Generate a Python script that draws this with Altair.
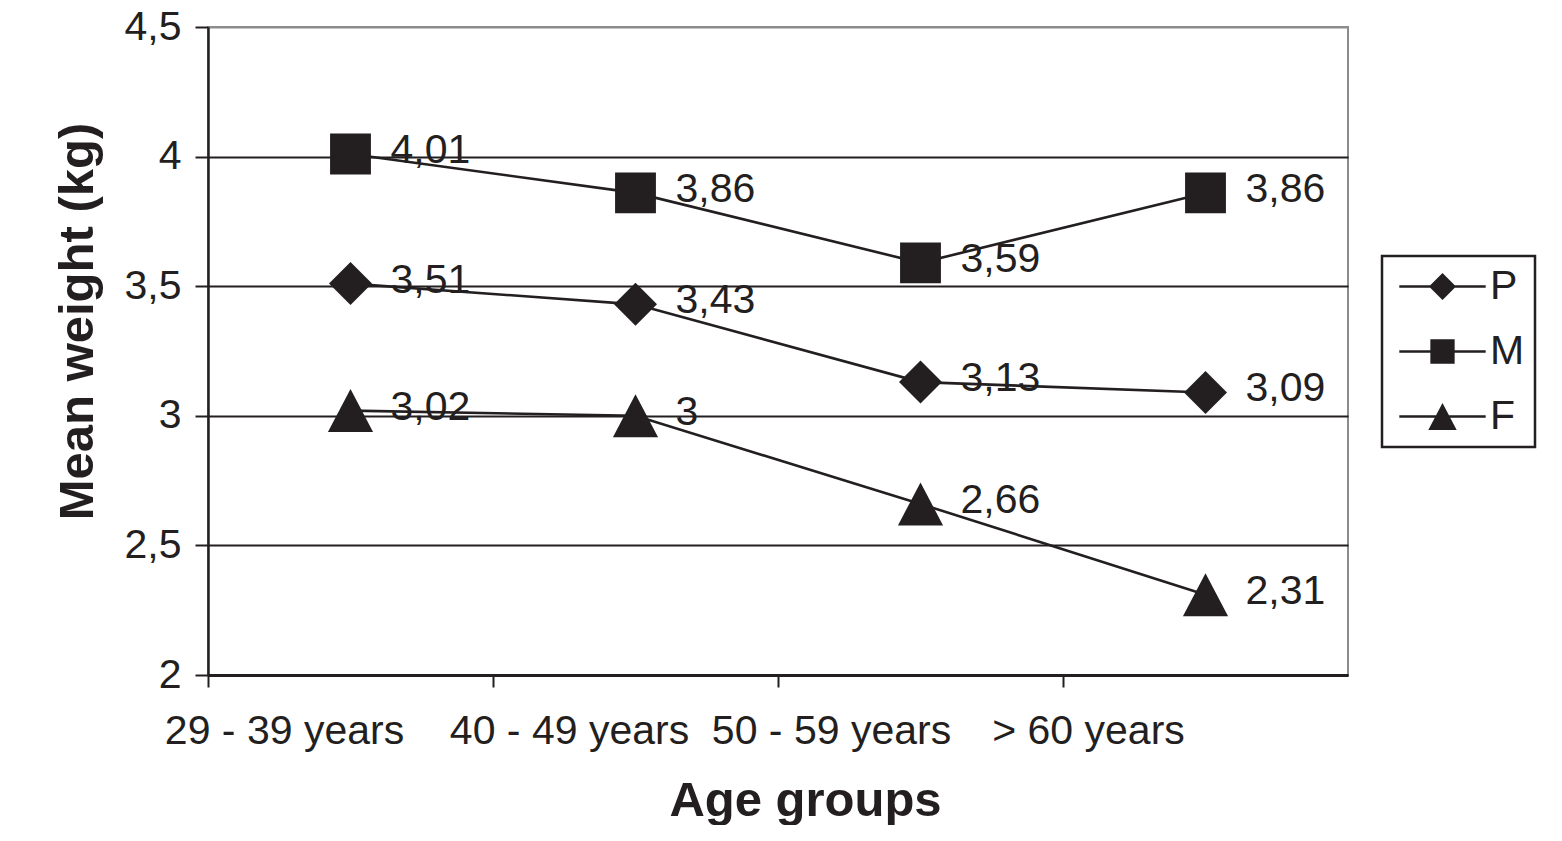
import altair as alt
import pandas as pd

groups = ["29 - 39 years", "40 - 49 years", "50 - 59 years", "> 60 years"]
series = ["P", "M", "F"]
p_vals = [3.51, 3.43, 3.13, 3.09]
m_vals = [4.01, 3.86, 3.59, 3.86]
f_vals = [3.02, 3.00, 2.66, 2.31]
y_ticks = [2, 2.5, 3, 3.5, 4, 4.5]

rows = []
for s, vals in zip(series, [p_vals, m_vals, f_vals]):
    for i, (g, v) in enumerate(zip(groups, vals)):
        rows.append({"group": g, "idx": i, "series": s, "value": v,
                     "label": f"{v:g}".replace(".", ",")})
df = pd.DataFrame(rows)

INK = "#231f20"
FONT = "Liberation Sans"

marker_paths = ["M-1,0L0,-1L1,0L0,1Z",
                "M-0.95,-0.95H0.95V0.95H-0.95Z",
                "M0,-1L1.05,1H-1.05Z"]
# legend glyphs: a thin filled bar (the line) plus the marker, all filled
BAR = "M-3.2,-0.09H3.2V0.09H-3.2Z"
legend_paths = [BAR + "M-1,0L0,-1L1,0L0,1Z",
                BAR + "M-0.9,-0.9H0.9V0.9H-0.9Z",
                BAR + "M0,-1L1.05,1H-1.05Z"]

x_enc = alt.X(
    "group:N", sort=groups,
    scale=alt.Scale(type="band", domain=groups, paddingInner=0, paddingOuter=0),
    axis=alt.Axis(
        title="Age groups", titleFont=FONT, titleFontSize=49, titleFontWeight="bold",
        titleColor=INK, titleX=597, titleY=140, titleBaseline="alphabetic",
        labelFont=FONT, labelFontSize=41, labelColor=INK, labelAngle=0,
        labelBaseline="alphabetic", labelPadding=56, labelLimit=0,
        labelOffset={"condition": [
            {"test": "datum.value === '> 60 years'", "value": -117},
            {"test": "datum.value === '50 - 59 years'", "value": -89},
        ], "value": -66},
        labelOverlap=False,
        bandPosition=0, tickSize=12, tickWidth=2, tickColor=INK,
        domainColor=INK, domainWidth=3, grid=False, zindex=1,
    ),
)

y_enc = alt.Y(
    "value:Q",
    scale=alt.Scale(domain=[2, 4.5], nice=False, zero=False),
    axis=alt.Axis(
        values=y_ticks, title="Mean weight (kg)", titleFont=FONT, titleFontSize=49,
        titleFontWeight="bold", titleColor=INK, titleX=-116, titleY=294,
        titleBaseline="alphabetic", titleAngle=270,
        labelFont=FONT, labelFontSize=41, labelColor=INK, labelPadding=14,
        labelExpr="replace(toString(datum.value), '.', ',')",
        tickSize=13, tickWidth=2, tickColor=INK, domainColor=INK, domainWidth=2.5,
        grid=True, gridWidth=2,
        gridColor={"condition": {"test": "datum.value >= 4.5", "value": "#8c8c8c"}, "value": INK},
        zindex=1,
    ),
)

base = alt.Chart(df)

lines = base.mark_line(color=INK, strokeWidth=2.6).encode(
    x=x_enc, y=y_enc, detail="series:N", order=alt.Order("idx:Q"))

points = base.mark_point(filled=True, color=INK, opacity=1, size=1849).encode(
    x=x_enc, y=y_enc,
    shape=alt.Shape("series:N", scale=alt.Scale(domain=series, range=marker_paths), legend=None),
)

labels = base.mark_text(align="left", baseline="middle", dx=40, dy=-3, fontSize=41,
                        font=FONT, color=INK).encode(x=x_enc, y=y_enc, text="label:N")

legend_layer = base.transform_filter("false").mark_point(
    filled=True, color=INK, opacity=1).encode(
    x=x_enc, y=y_enc,
    shape=alt.Shape(
        "series:N", scale=alt.Scale(domain=series, range=legend_paths),
        legend=alt.Legend(
            title=None, orient="none", legendX=1174, legendY=229, direction="vertical",
            padding=10, strokeColor=INK, fillColor="white",
            symbolSize=729, symbolOffset=30,
            symbolFillColor=INK, symbolOpacity=1,
            labelFont=FONT, labelFontSize=41, labelColor=INK, labelOffset=27,
            rowPadding=23,
        ),
    ),
)

chart = alt.layer(lines, points, labels, legend_layer).resolve_scale(
    shape="independent"
).properties(
    width=1140, height=648,
    autosize=alt.AutoSizeParams(type="none"),
    padding={"left": 200, "top": 19, "right": 200, "bottom": 150},
).configure_view(
    stroke="#8c8c8c", strokeWidth=2
).configure_legend(
    strokeWidth=2.5
)

chart.save("out.html", embed_options={"renderer": "svg", "actions": False})
